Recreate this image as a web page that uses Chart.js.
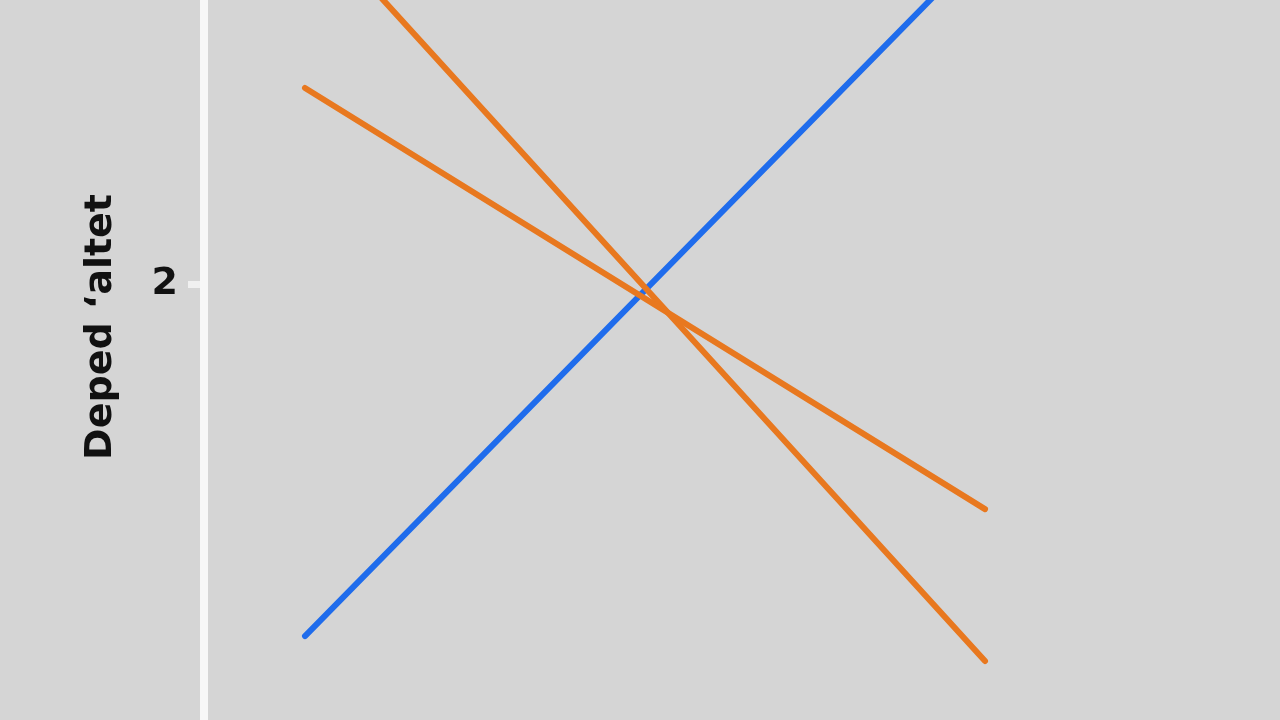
<!DOCTYPE html>
<html>
<head>
<meta charset="utf-8">
<script src="https://cdn.jsdelivr.net/npm/chart.js@4/dist/chart.umd.min.js"></script>
<style>
  html, body { margin: 0; padding: 0; background: #d5d5d5; }
  #wrap { width: 1280px; height: 720px; position: relative; }
</style>
</head>
<body>
<div id="wrap"><canvas id="myChart"></canvas></div>
<script>
const xPoints = [0, 1]
const blueValues = [0.765, 3.196]
const orangeSteepValues = [3.302, 0.677]
const orangeShallowValues = [2.691, 1.211]
const yTicks = [2]
const yTitle = '     Deped \u2018altet'

const blueColor = '#1f6cec'
const orangeColor = '#e8781f'

function toPoints(values) {
  var pts = []
  for (var i = 0; i < xPoints.length; i++) {
    pts.push({ x: xPoints[i], y: values[i] })
  }
  return pts
}

function lineSet(values, color) {
  return {
    data: toPoints(values),
    borderColor: color,
    borderWidth: 6,
    borderCapStyle: 'round',
    pointRadius: 0,
    tension: 0,
    fill: false
  }
}

var ctx = document.getElementById('myChart')
var chart = new Chart(ctx, {
  type: 'line',
  data: {
    datasets: [
      lineSet(orangeShallowValues, orangeColor),
      lineSet(orangeSteepValues, orangeColor),
      lineSet(blueValues, blueColor)
    ]
  },
  options: {
    responsive: true,
    maintainAspectRatio: false,
    animation: false,
    layout: { padding: 0 },
    plugins: { legend: { display: false }, tooltip: { enabled: false } },
    scales: {
      x: {
        type: 'linear',
        display: false,
        min: -0.1485,
        max: 1.4338
      },
      y: {
        type: 'linear',
        min: 0.47,
        max: 3,
        afterFit: function(scale) {
          scale.width = 204
          scale.paddingTop = 0
          scale.paddingBottom = 0
        },
        afterBuildTicks: function(scale) {
          scale.ticks = yTicks.map(function(v) { return { value: v } })
        },
        border: { color: '#f7f7f7', width: 8 },
        grid: {
          drawOnChartArea: false,
          color: '#f0f0f0',
          lineWidth: 7,
          tickLength: 16
        },
        ticks: {
          padding: 10,
          color: '#111111',
          font: { family: 'DejaVu Sans', weight: 'bold', size: 38 }
        },
        title: {
          display: true,
          text: yTitle,
          color: '#111111',
          padding: { top: 78, bottom: 0 },
          font: { family: 'DejaVu Sans', weight: 'bold', size: 38 }
        }
      }
    }
  }
})
</script>
</body>
</html>
